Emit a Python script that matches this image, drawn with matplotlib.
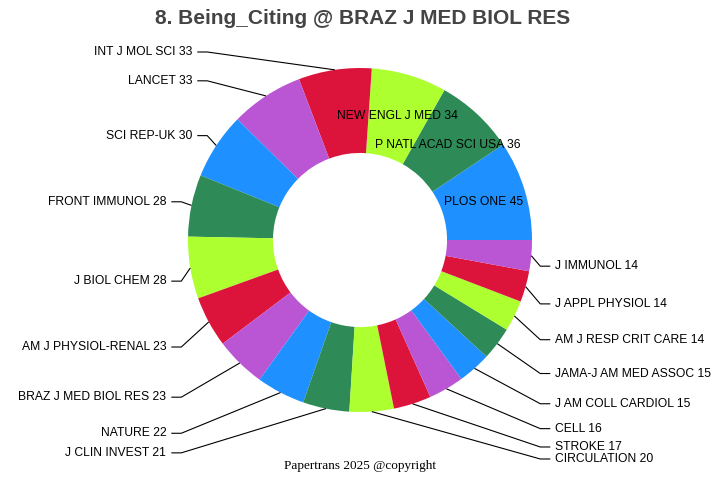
import matplotlib
matplotlib.use("Agg")
import matplotlib.pyplot as plt
import numpy as np

# journals citing, in drawing order (counter-clockwise from 3 o'clock)
journals = ["PLOS ONE", "P NATL ACAD SCI USA", "NEW ENGL J MED", "INT J MOL SCI",
            "LANCET", "SCI REP-UK", "FRONT IMMUNOL", "J BIOL CHEM",
            "AM J PHYSIOL-RENAL", "BRAZ J MED BIOL RES", "NATURE", "J CLIN INVEST",
            "CIRCULATION", "STROKE", "CELL", "J AM COLL CARDIOL",
            "JAMA-J AM MED ASSOC", "AM J RESP CRIT CARE", "J APPL PHYSIOL", "J IMMUNOL"]
counts = [45, 36, 34, 33, 33, 30, 28, 28, 23, 23, 22, 21, 20, 17, 16, 15, 15, 14, 14, 14]
palette = ["#1E90FF", "#2E8B57", "#ADFF2F", "#DC143C", "#BA55D3"]
n_inside = 3  # biggest slices get their label inside

title = "8. Being_Citing @ BRAZ J MED BIOL RES"
footer = "Papertrans 2025 @copyright"

W, H, R = 720, 480, 172.0
fig = plt.figure(figsize=(7.2, 4.8), dpi=100)
ax = fig.add_axes([0, 0, 1, 1])

colors = [palette[i % len(palette)] for i in range(len(counts))]
wedges, _ = ax.pie(counts, colors=colors, startangle=0, counterclock=True,
                   radius=1.0, wedgeprops=dict(width=0.494, linewidth=0))

# pie() resets the limits, so set them afterwards: 1 data unit = R pixels
ax.set_xlim(-W / 2 / R, W / 2 / R)
ax.set_ylim(-H / 2 / R, H / 2 / R)
ax.set_aspect("equal")
ax.axis("off")

lab_font = dict(family=["Liberation Sans", "DejaVu Sans"], fontsize=8.7, color="black")

# label positions
outside = []
for i, w in enumerate(wedges):
    th = np.deg2rad((w.theta1 + w.theta2) / 2)
    txt = f"{journals[i]} {counts[i]}"
    if i < n_inside:
        rm = 1 - 0.494 / 2
        ax.text(rm * np.cos(th), rm * np.sin(th), txt, ha="center", va="center", **lab_font)
        continue
    s = np.sin(th)
    if s > 0:
        y = 1.105 * s
    else:
        y = 1.221 * s - 7 / R
    outside.append([i, th, y])

# groups: right side, upper left, lower left
groups = {"r": [], "lu": [], "ll": []}
for o in outside:
    deg = np.rad2deg(o[1]) % 360
    if deg > 270 or deg < 90:
        groups["r"].append(o)
    elif deg < 160:
        groups["lu"].append(o)
    else:
        groups["ll"].append(o)

gap = 12 / R
for key, items in groups.items():
    if not items:
        continue
    # push apart going downward
    items.sort(key=lambda o: -o[2])
    for k in range(1, len(items)):
        if items[k - 1][2] - items[k][2] < gap:
            items[k][2] = items[k - 1][2] - gap
    side = 1 if key == "r" else -1
    edge = max(abs(np.cos(o[1])) for o in items)
    for i, th, y in items:
        x0, y0 = np.cos(th), np.sin(th)
        xe = side * (edge + 9 / R)
        xs = side * (edge + 19 / R)
        xt = side * (edge + 24 / R)
        ax.plot([x0, xe, xs], [y0, y, y], color="black", lw=0.8, solid_capstyle="butt")
        ax.text(xt, y, f"{journals[i]} {counts[i]}", ha="left" if side > 0 else "right",
                va="center", **lab_font)

fig.text(363 / W, 1 - 18.5 / H, title, ha="center", va="center", fontsize=15,
         fontweight="bold", color="#444444", family=["Liberation Sans", "DejaVu Sans"])
fig.text(0.5, 1 - 466 / H, footer, ha="center", va="center", fontsize=9.5,
         color="black", family=["Liberation Serif", "DejaVu Serif"])

fig.savefig("out.png", dpi=100)
